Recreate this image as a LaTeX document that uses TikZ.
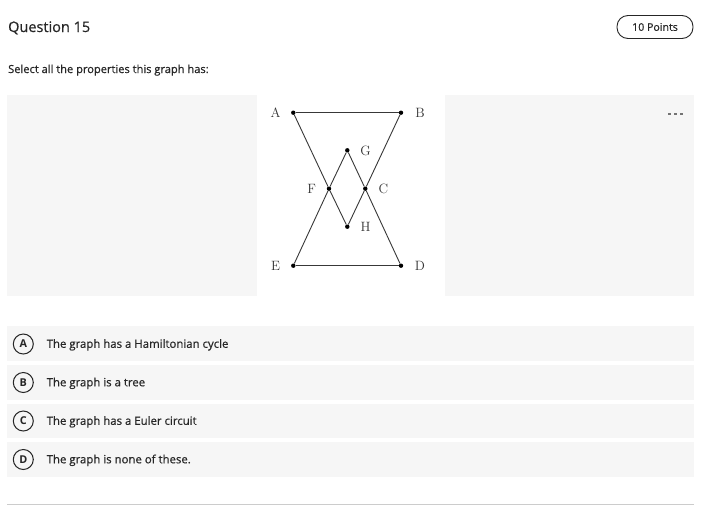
\documentclass[tikz,border=0pt]{standalone}
\usepackage{fontspec}
\newfontfamily\os[FakeBold=0.5]{Open Sans}
\newfontfamily\osb{Open Sans Bold}
\definecolor{boxgray}{HTML}{F6F6F6}
\definecolor{txt}{HTML}{262626}
\definecolor{rulegray}{HTML}{CCCCCC}
\begin{document}
\begin{tikzpicture}[x=1pt,y=-1pt,
  vtx/.style={circle,fill=black,inner sep=0pt,minimum size=4.4pt},
  vlab/.style={inner sep=0pt,text=black!80,font=\fontsize{13.5}{15}\selectfont},
  edge/.style={line width=0.9pt,draw=black!78},
  panel/.style={fill=boxgray,draw=none},
  opttext/.style={anchor=base west,inner sep=0pt,text=txt,font=\os\fontsize{11.4}{13}\selectfont},
  optletter/.style={circle,draw=txt,line width=1pt,minimum size=20pt,inner sep=0pt,text=txt,font=\osb\fontsize{10.8}{12}\selectfont}
]
\useasboundingbox (0,0) rectangle (715,509);
\fill[white] (0,0) rectangle (715,509);

% header
\node[anchor=base west,inner sep=0pt,text=txt,font=\os\fontsize{14.5}{16}\selectfont] (title) at (8,32) {Question 15};
\node[draw=txt,line width=0.9pt,rounded corners=11pt,minimum width=76pt,minimum height=23pt,inner sep=0pt,text=txt,font=\os\fontsize{10.6}{12}\selectfont] (points) at (655,27) {10 Points};
\node[anchor=base west,inner sep=0pt,text=txt,font=\os\fontsize{11.1}{13}\selectfont] (prompt) at (8,73) {Select all the properties this graph has:};

% panels
\fill[panel] (7,95) rectangle (257,295.5);
\fill[panel] (444.5,95) rectangle (693.5,295.5);
\foreach \dx in {669.5,675.5,681.5}{\fill[black!55] (\dx-1.3,112.7) rectangle (\dx+1.3,115.3);}

% graph vertices
\node[vtx] (A) at (293.3,112.7) {};
\node[vtx] (B) at (401,112.7) {};
\node[vtx] (G) at (347.3,150.3) {};
\node[vtx] (F) at (329,188.7) {};
\node[vtx] (C) at (365.3,188.7) {};
\node[vtx] (H) at (347.3,226.7) {};
\node[vtx] (E) at (293.3,265.7) {};
\node[vtx] (D) at (401,265.7) {};

% labels
\node[vlab] (lA) at (275.7,112.5) {A};
\node[vlab] (lB) at (420,112.5) {B};
\node[vlab] (lG) at (365.5,150.5) {G};
\node[vlab] (lF) at (311.7,188.5) {F};
\node[vlab] (lC) at (383.3,188.5) {C};
\node[vlab] (lH) at (365.5,226.5) {H};
\node[vlab] (lE) at (275.7,265.5) {E};
\node[vlab] (lD) at (420,265.5) {D};

% edges
\draw[edge] (A) -- (B);
\draw[edge] (E) -- (D);
\draw[edge] (A) -- (F);
\draw[edge] (F) -- (H);
\draw[edge] (E) -- (F);
\draw[edge] (F) -- (G);
\draw[edge] (G) -- (C);
\draw[edge] (C) -- (D);
\draw[edge] (B) -- (C);
\draw[edge] (C) -- (H);

% options
\fill[panel] (7,326) rectangle (693.5,361);
\fill[panel] (7,365) rectangle (693.5,399.5);
\fill[panel] (7,403.5) rectangle (693.5,437.5);
\fill[panel] (7,442) rectangle (693.5,476.5);

\node[optletter] (oA) at (23.3,344) {A};
\node[optletter] (oB) at (23.3,382.5) {B};
\node[optletter] (oC) at (23.3,421) {C};
\node[optletter] (oD) at (23.3,459.5) {D};

\node[opttext] (tA) at (46.5,347.8) {The graph has a Hamiltonian cycle};
\node[opttext] (tB) at (46.5,386.3) {The graph is a tree};
\node[opttext] (tC) at (46.5,424.8) {The graph has a Euler circuit};
\node[opttext] (tD) at (46.5,463.3) {The graph is none of these.};

% bottom rule
\draw[rulegray,line width=1.3pt] (7,504.3) -- (693.5,504.3);
\end{tikzpicture}
\end{document}
